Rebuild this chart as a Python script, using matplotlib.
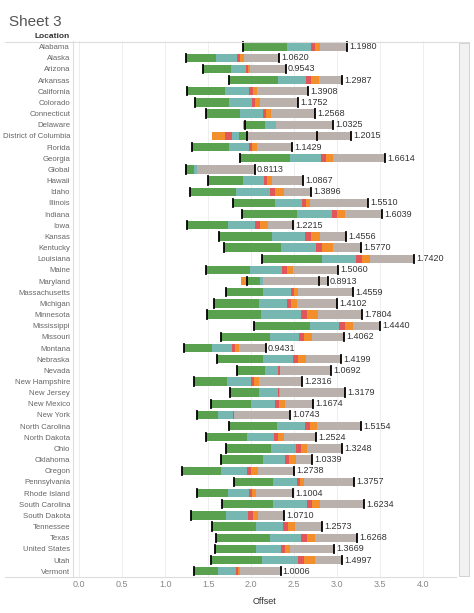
import numpy as np
import matplotlib.pyplot as plt
from matplotlib.patches import Rectangle

plt.rcParams['font.family'] = ['Liberation Sans', 'DejaVu Sans']

locations = ['Alabama','Alaska','Arizona','Arkansas','California','Colorado','Connecticut','Delaware',
             'District of Columbia','Florida','Georgia','Global','Hawaii','Idaho','Illinois','Indiana','Iowa',
             'Kansas','Kentucky','Louisiana','Maine','Maryland','Massachusetts','Michigan','Minnesota',
             'Mississippi','Missouri','Montana','Nebraska','Nevada','New Hampshire','New Jersey','New Mexico',
             'New York','North Carolina','North Dakota','Ohio','Oklahoma','Oregon','Pennsylvania','Rhode Island',
             'South Carolina','South Dakota','Tennessee','Texas','United States','Utah','Vermont']
start = [1.907,1.244,1.442,1.744,1.256,1.349,1.477,1.930,1.953,1.314,1.872,1.244,1.500,1.291,1.791,1.895,1.256,
         1.628,1.686,2.128,1.477,1.953,1.709,1.570,1.488,2.035,1.651,1.221,1.605,1.837,1.337,1.756,1.535,
         1.372,1.744,1.477,1.709,1.651,1.198,1.802,1.372,1.663,1.302,1.547,1.593,1.581,1.535,1.337]
green = [.512,.349,.326,.570,.442,.395,.395,.233,-.093,.430,.581,.093,.407,.535,.488,.640,.477,
         .616,.663,.698,.512,.151,.430,.523,.628,.651,.570,.326,.535,.326,.384,.337,.465,
         .244,.558,.477,.523,.488,.453,.453,.360,.593,.407,.512,.628,.477,.593,.279]
teal = [.279,.244,.174,.326,.279,.267,.267,.128,-.081,.233,.360,.035,.244,.395,.314,.407,.314,
        .384,.407,.395,.372,.035,.326,.326,.465,.337,.337,.233,.349,.151,.279,.221,.279,
        .174,.326,.314,.291,.256,.302,.279,.244,.395,.256,.314,.360,.291,.419,.209]
red = [.047,.035,.023,.058,.047,.035,.035,0,-.081,.035,.058,0,.035,.058,.047,.058,.058,
       .070,.070,.070,.058,0,.035,.047,.070,.070,.058,.035,.058,.023,.035,.012,.047,
       .012,.058,.047,.058,.047,.047,.035,.035,.058,.058,.058,.070,.047,.070,.023]
orange = [.058,.047,.023,.093,.047,.058,.058,-.023,-.151,.058,.081,-.012,.058,.105,.047,.093,.093,
          .105,.128,.093,.070,-.070,.047,.070,.128,.093,.093,.047,.093,0,.058,.012,.070,
          0,.081,.070,.070,.081,.081,.047,.047,.093,.058,.081,.093,.058,.128,.023]
gray = [.314,.407,.419,.267,.593,.442,.512,.663,1.209,.407,.605,.674,.360,.314,.674,.430,.291,
        .302,.326,.512,.523,.756,.640,.465,.512,.314,.372,.314,.407,.593,.500,.756,.326,
        .651,.512,.372,.407,.186,.419,.581,.430,.512,.302,.314,.488,.512,.314,.477]
labels = ['1.1980','1.0620','0.9543','1.2987','1.3908','1.1752','1.2568','1.0325','1.2015','1.1429','1.6614',
          '0.8113','1.0867','1.3896','1.5510','1.6039','1.2215','1.4556','1.5770','1.7420','1.5060','0.8913',
          '1.4559','1.4102','1.7804','1.4440','1.4062','0.9431','1.4199','1.0692','1.2316','1.3179','1.1674',
          '1.0743','1.5154','1.2524','1.3248','1.0339','1.2738','1.3757','1.1004','1.6234','1.0710','1.2573',
          '1.6268','1.3669','1.4997','1.0006']
extra_tick = {'District of Columbia': 2.767, 'Maryland': 2.791}

colors = ['#59A14F', '#76B7B2', '#E15759', '#F28E2B', '#BAB0AC']
series = [green, teal, red, orange, gray]

fig = plt.figure(figsize=(4.74, 6.13), dpi=100)
ax = fig.add_axes([0.154, 0.059, 0.808, 0.874])
n = len(locations)
h = 0.75
for i in range(n):
    pos = start[i]
    neg = start[i]
    for s, c in zip(series, colors):
        w = s[i]
        if w > 0:
            ax.barh(i, w, left=pos, height=h, color=c, linewidth=0)
            pos += w
        elif w < 0:
            ax.barh(i, w, left=neg, height=h, color=c, linewidth=0)
            neg += w
    ax.plot([start[i]] * 2, [i - h / 2, i + h / 2], color='black', lw=1.3)
    ax.plot([pos] * 2, [i - h / 2, i + h / 2], color='black', lw=1.3)
    if locations[i] in extra_tick:
        xt = extra_tick[locations[i]]
        ax.plot([xt] * 2, [i - h / 2, i + h / 2], color='black', lw=1.3)
    ax.text(pos + 0.02, i, labels[i], va='center', ha='left', fontsize=6.5, color='#333333')

ax.set_ylim(n - 0.5, -0.5)
ax.set_xlim(-0.07, 4.38)
ax.set_yticks(range(n))
ax.set_yticklabels(locations, fontsize=5.6, color='#666666')
ax.set_xticks(np.arange(0, 4.01, 0.5))
ax.set_xticklabels(['%.1f' % v for v in np.arange(0, 4.01, 0.5)], fontsize=6.5, color='#888888')
ax.tick_params(length=0, pad=2)
ax.grid(axis='x', color='#eeeeee', lw=0.7)
ax.set_axisbelow(True)
for sp in ['top', 'right', 'bottom']:
    ax.spines[sp].set_visible(False)
ax.spines['left'].set_color('#dddddd')
ax.set_xlabel('Offset', fontsize=6.5, color='#333333', labelpad=6)

fig.text(0.02, 0.975, 'Sheet 3', fontsize=11, color='#555555', va='top')
fig.text(0.148, 0.94, 'Location', fontsize=6, color='#333333', ha='right', fontweight='bold', va='center')
fig.add_artist(plt.Line2D([0.01, 0.99], [0.932, 0.932], color='#dddddd', lw=0.8))
fig.add_artist(plt.Line2D([0.01, 0.962], [0.058, 0.058], color='#dddddd', lw=0.8))
fig.add_artist(Rectangle((0.968, 0.06), 0.022, 0.87, facecolor='#f2f2f2', edgecolor='#cccccc', lw=0.6))

fig.savefig('out.png', dpi=100)
